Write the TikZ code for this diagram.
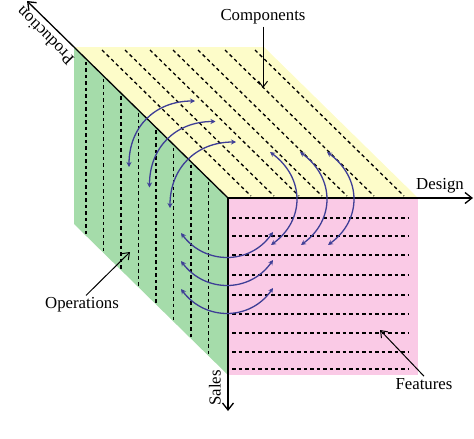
\documentclass[tikz,border=0pt]{standalone}
\usepackage{fontspec}
\setmainfont{Liberation Serif}
\usetikzlibrary{arrows.meta}
\usetikzlibrary{positioning}

\definecolor{topyellow}{RGB}{253,252,201}
\definecolor{sidegreen}{RGB}{165,220,170}
\definecolor{frontpink}{RGB}{250,202,230}
\definecolor{arcblue}{RGB}{62,62,150}

\tikzset{
    axisline/.style={line width=1.3pt, -{Straight Barb[length=7pt,width=11pt]}},
    pointer/.style={line width=1pt, -{Straight Barb[length=6pt,width=9pt]}},
    facedash/.style={line width=1.3pt, dash pattern=on 3.5pt off 3pt},
    linkarc/.style={arcblue, line width=1.3pt, {Stealth[length=5pt,width=5pt]}-{Stealth[length=5pt,width=5pt]}},
    lbl/.style={inner sep=2pt, font=\fontsize{16.8}{20}\selectfont}
}

\begin{document}
\begin{tikzpicture}[x=1pt, y=-1pt]
    \useasboundingbox (0,0) rectangle (474,439);

    \coordinate (origin) at (228,198);

    % the three faces
    \fill [topyellow] (origin) -- (74,47) -- (264,47) -- (418,198) -- cycle;
    \fill [sidegreen] (origin) -- (74,47) -- (74,224) -- (228,375) -- cycle;
    \fill [frontpink] (origin) rectangle (418,375);

    % dashed strips
    \foreach \x in {86,103.5,121,138.5,156,173.5,191,208.5} {
        \pgfmathsetmacro\ytop{198-(228-\x)*0.9805+3}
        \draw [facedash] (\x,\ytop) -- (\x,{\ytop+174});
    }
    \foreach \x in {102,125,150,173,198,225,255}
        \draw [facedash] (\x,50) -- ++(149,146);
    \foreach \y in {218,236,255,275,295,314,333,352,369}
        \draw [facedash] (232,\y) -- (408,\y);

    % axes
    \coordinate (prodtip) at (27,1);
    \coordinate (designtip) at (473,198);
    \coordinate (salestip) at (228,411);
    \draw [axisline] (origin) -- (prodtip);
    \draw [axisline] (origin) -- (designtip);
    \draw [axisline] (origin) -- (salestip);

    \node (production) [lbl, rotate=135] at (45,36) {Production};
    \node (design) [lbl] at (440,186) {Design};
    \node (sales) [lbl, rotate=90] at (215,388) {Sales};

    % face labels
    \node (components) [lbl] at (263,17) {Components};
    \node (operations) [lbl] at (82,305) {Operations};
    \node (features) [lbl] at (424,384) {Features};

    \coordinate (comptip) at (263,88);
    \coordinate (opstip) at (130,252);
    \coordinate (feattip) at (380,330);
    \draw [pointer] (components) -- (comptip);
    \draw [pointer] ([xshift=4pt]operations.north) -- (opstip);
    \draw [pointer] (features.north) -- (feattip);

    % links between faces
    \foreach \i in {0,1,2}
        \draw [linkarc, shift={(20.5*\i,20.5*\i)}] (129,167) .. controls (129,127) and (155,101) .. (195,101);
    \foreach \dx in {0,30,57}
        \draw [linkarc] (270+\dx,152) .. controls (305+\dx,178) and (305+\dx,220) .. (271+\dx,245);
    \foreach \dy in {0,28,56}
        \draw [linkarc] (181,233+\dy) .. controls (205,265+\dy) and (250,265+\dy) .. (273,232+\dy);
\end{tikzpicture}
\end{document}
